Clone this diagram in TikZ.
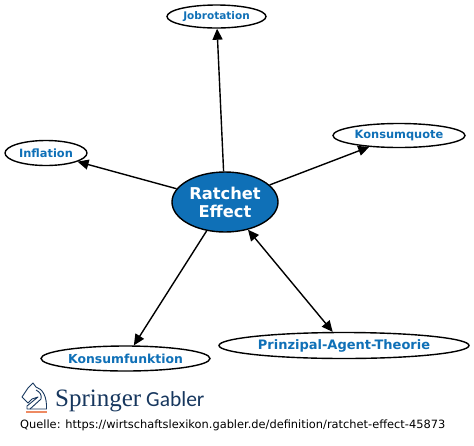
\documentclass[tikz,border=0pt]{standalone}
\usepackage{fontspec}
\setmainfont{DejaVu Sans}
\newfontfamily\logoserif{Liberation Serif}
\newfontfamily\logosans{Carlito}
\usetikzlibrary{shapes.geometric, arrows.meta}
\definecolor{gablerblue}{HTML}{0F70B7}
\definecolor{logonavy}{HTML}{17375E}
\definecolor{logoorange}{HTML}{EE8A62}
\tikzset{
  topic/.style={draw, ellipse, line width=1.4pt, fill=white, inner sep=0pt, text=gablerblue, font=\fontsize{11.4}{13}\selectfont\bfseries},
  hub/.style={draw, ellipse, line width=1.4pt, fill=gablerblue, inner sep=0pt, minimum width=106pt, minimum height=60pt, align=center, text=white, font=\fontsize{16.3}{18}\selectfont\bfseries},
  link/.style={line width=1.4pt},
  horse/.style={draw=logonavy, line width=.9pt, line join=round},
}

\begin{document}
\begin{tikzpicture}[>={Triangle[length=11pt, width=10pt]}, x=1pt, y=-1pt]
  \useasboundingbox (0,0) rectangle (474,445);
  \node[hub] (re) at (225,202) {Ratchet\\Effect};
  \node[topic, minimum width=99pt, minimum height=23pt, font=\fontsize{10.5}{12}\selectfont\bfseries] (job) at (216.5,16.5) {Jobrotation};
  \node[topic, minimum width=132pt, minimum height=24pt] (kq) at (399,135.5) {Konsumquote};
  \node[topic, minimum width=82pt, minimum height=25pt] (inf) at (46,153) {Inflation};
  \node[topic, minimum width=169pt, minimum height=25pt, font=\fontsize{12.4}{14}\selectfont\bfseries] (kf) at (125.5,358.5) {Konsumfunktion};
  \node[topic, minimum width=250pt, minimum height=26pt, font=\fontsize{13}{15}\selectfont\bfseries] (pat) at (344,345.5) {Prinzipal-Agent-Theorie};
  \draw[link, ->] (re) -- (job);
  \draw[link, ->] (re) -- (kq);
  \draw[link, ->] (re) -- (inf);
  \draw[link, ->] (re) -- (kf);
  \draw[link, <->] (re) -- (pat);
  % logo
  \draw[horse] (28,388) -- (33,383) -- (36,387) .. controls (43,389) and (47,397) .. (46.5,409) -- (27,409) -- (27,406) -- (38,397) -- (32,399) -- (28,403) -- (22,397) -- (28,388);
  \draw[horse] (30,409) -- (41,399) .. controls (42,395) and (40,392) .. (36,390);
  \fill[logoorange] (26,410.5) rectangle (47,412.5);
  \node[anchor=base west, inner sep=0pt, text=logonavy, font=\logoserif\fontsize{25}{25}\selectfont] (spr) at (55,406) {Springer};
  \node[anchor=base west, inner sep=0pt, text=logonavy, font=\logosans\fontsize{21.5}{22}\selectfont] (gab) at (146,406) {Gabler};
  \node[anchor=base west, inner sep=0pt, font=\fontsize{11.4}{13}\selectfont] (src) at (20,428) {Quelle: https://wirtschaftslexikon.gabler.de/definition/ratchet-effect-45873};
\end{tikzpicture}
\end{document}
